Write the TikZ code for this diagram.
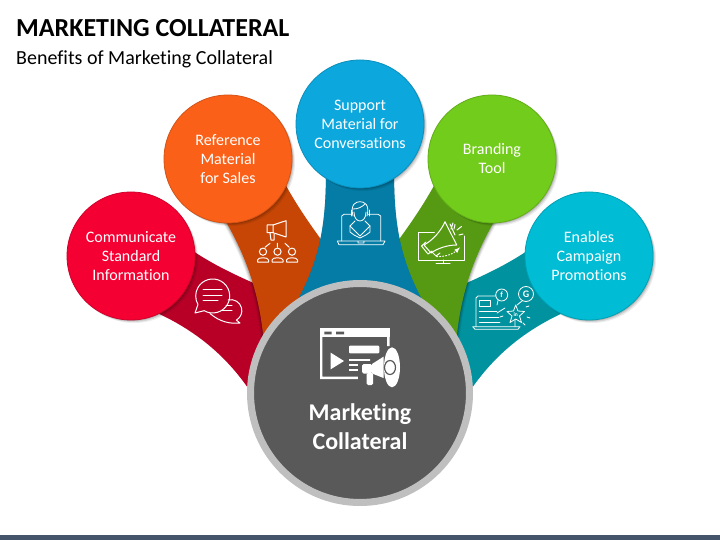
\documentclass[tikz,border=0pt]{standalone}
\usepackage{fontspec}
\setmainfont{Carlito}[Ligatures=NoCommon]
\usetikzlibrary{shadows}
\definecolor{redc}{HTML}{F50032}
\definecolor{redp}{HTML}{B80027}
\definecolor{orac}{HTML}{FB6018}
\definecolor{orap}{HTML}{C74606}
\definecolor{bluc}{HTML}{0CA7DD}
\definecolor{blup}{HTML}{047CA6}
\definecolor{gric}{HTML}{72CC1B}
\definecolor{grip}{HTML}{569A14}
\definecolor{teac}{HTML}{00BCD4}
\definecolor{teap}{HTML}{00929F}
\definecolor{hubc}{HTML}{595959}
\definecolor{ringc}{HTML}{BFBFBF}
\definecolor{barc}{HTML}{44546A}
\tikzset{
  softshadow/.style n args={2}{
    general shadow={shadow xshift=#1*3pt,shadow yshift=#2*3pt,fill=black,opacity=.07},
    general shadow={shadow xshift=#1*2pt,shadow yshift=#2*2pt,fill=black,opacity=.1},
    general shadow={shadow xshift=#1*1pt,shadow yshift=#2*1pt,fill=black,opacity=.14}},
  bubble/.style={circle,minimum size=128pt,inner sep=0pt,outer sep=0pt,text=white,align=center,
    font=\fontsize{16}{19}\selectfont,softshadow={1}{-1},draw=#1!85!black,line width=.8pt,fill=#1},
  icon/.style={draw=white,line width=1pt,line join=round,line cap=round},
  iconfill/.style={fill=white,draw=none}
}
\begin{document}
\begin{tikzpicture}[x=1pt,y=-1pt]
  \useasboundingbox (0,0) rectangle (720,540);
  \fill[white] (0,0) rectangle (720,540);
  \fill[barc] (0,535) rectangle (720,540);

  % node centres, the petals hang on them
  \coordinate (c1) at (131,256);
  \coordinate (c2) at (228,159);
  \coordinate (c3) at (360,124);
  \coordinate (c4) at (492,159);
  \coordinate (c5) at (589,256);
  \coordinate (ch) at (360,393);

  % petals
  \fill[redp] (c1) -- (190,249) .. controls (212,264) and (233,274) .. (258,285) -- (ch) -- (248,388) .. controls (225,355) and (195,330) .. (155,312) -- cycle;
  \fill[teap] (c5) -- (530,249) .. controls (508,264) and (487,274) .. (462,285) -- (ch) -- (472,388) .. controls (495,355) and (525,330) .. (565,312) -- cycle;
  \fill[orap,softshadow={-1}{-.4}] (c2) -- (222,215) .. controls (243,250) and (260,290) .. (264,345) -- (ch) -- (335,258) .. controls (315,232) and (296,205) .. (283,180) -- cycle;
  \fill[grip,softshadow={1}{-.4}] (c4) -- (498,215) .. controls (477,250) and (460,290) .. (456,345) -- (ch) -- (385,258) .. controls (405,232) and (424,205) .. (437,180) -- cycle;
  \fill[blup,softshadow={0}{-.4}] (c3) -- (326,170) .. controls (326,225) and (320,260) .. (295,305) -- (ch) -- (425,305) .. controls (400,260) and (394,225) .. (394,170) -- cycle;

  % bubbles
  \node[bubble=redc] (comm) at (c1) {Communicate\\Standard\\Information};
  \node[bubble=orac] (sales) at (c2) {Reference\\Material\\for Sales};
  \node[bubble=bluc] (talk) at (c3) {Support\\Material for\\Conversations};
  \node[bubble=gric] (brand) at (c4) {Branding\\Tool};
  \node[bubble=teac] (promo) at (c5) {Enables\\Campaign\\Promotions};
  \node[circle,minimum size=219pt,inner sep=0pt,fill=hubc,draw=ringc,line width=7pt,softshadow={0}{-1}] (hub) at (ch) {};
  \node[text=white,align=center,font=\fontsize{24}{29}\selectfont\bfseries] (hubtext) at (360,426.5) {Marketing\\Collateral};

  \node[anchor=west,inner sep=0pt,font=\fontsize{26}{30}\selectfont\bfseries,text=black] (title) at (16,28) {MARKETING COLLATERAL};
  \node[anchor=west,inner sep=0pt,font=\fontsize{20}{24}\selectfont,text=black] (subtitle) at (16,59) {Benefits of Marketing Collateral};

  % chat icon
  \draw[icon] (204.2,310.7) arc (120:-210:17) -- (195,313) -- cycle;
  \draw[icon] (203,289) -- (222,289) (203,295) -- (222,295) (203,300.7) -- (218,300.7);
  \draw[icon] (228,300) arc (-105:60:11) -- (240,323) .. controls (230,324) and (220,322) .. (210,313.5);
  \draw[icon] (226,305.7) -- (232,305.7) (222,310.7) -- (232,310.7);

  % megaphone and people icon
  \draw[icon] (273,225) -- (286,220.7) -- (286,237) -- (273,232.7) -- cycle;
  \draw[icon] (273,225) -- (267,225) -- (267,232.7) -- (273,232.7) (270,233) -- (271,240) -- (274,240) -- (274,234);
  \draw[icon] (270,243.3) -- (265,247.3) (277.3,243.3) -- (277.3,247.3) (285,243.3) -- (289.3,247.3);
  \foreach \x in {263,277.5,292} {
    \draw[icon] (\x,251.7) circle (3.6);
    \draw[icon] (\x-5.5,262) -- (\x-5.5,260) .. controls (\x-5.5,257) and (\x+5.5,257) .. (\x+5.5,260) -- (\x+5.5,262) -- cycle;
  }

  % support agent icon
  \draw[icon,line width=.8pt] (352,214.3) -- (344,214.3) -- (341.7,216) -- (341.7,241) (368,214.3) -- (378,214.3) -- (380.7,216) -- (380.7,241);
  \draw[icon,line width=.8pt] (337.3,241) -- (385,241) -- (383,244.7) -- (339,244.7) -- cycle (358,241) -- (358,243) -- (364,243) -- (364,241);
  \draw[icon,line width=.8pt] (353,216) .. controls (350,204) and (356,201.7) .. (360,201.7) .. controls (364,201.7) and (370,204) .. (367,216);
  \draw[icon,line width=.8pt] (353,209) .. controls (358,209) and (362,207) .. (365,204) (354,212) .. controls (354,224) and (366,224) .. (366,212);
  \draw[icon,line width=.8pt] (351,210) -- (351,216) (369,210) -- (369,216);
  \draw[icon,line width=.8pt] (355,221) -- (350,226) -- (350,232) -- (354,235) -- (360,238) -- (366,235) -- (370,232) -- (370,226) -- (365,221);
  \draw[icon,line width=.8pt] (350,226) -- (360,236) -- (370,226);

  % billboard icon
  \draw[icon] (442,232.3) -- (418.3,232.3) -- (418.3,260) -- (464.3,260) -- (464.3,236);
  \draw[icon] (443.3,260) -- (443.3,263.3) (436,263.3) -- (450,263.3);
  \fill[grip] (445,221.7) -- (456.7,245) -- (430,253) -- (423.3,245) -- cycle;
  \draw[icon] (445,221.7) -- (456.7,245) .. controls (448,245) and (438,248) .. (431,253) -- (424,245) .. controls (433,240) and (441,231) .. (445,221.7) -- cycle;
  \draw[icon] (426,242) -- (421.5,246) -- (428,254) -- (432,251) (432,252) -- (436,256) -- (440,253);
  \draw[icon] (450,224) -- (455,235) (453,223) -- (451,229);
  \draw[icon] (454,229) -- (455,224.5) (457,230) -- (461.5,226.5) (459,235) -- (463,234);
  \draw[icon,dotted,->,>=latex] (436.7,256.5) .. controls (445,257) and (453,254) .. (460,247.3);

  % laptop and social icon
  \draw[icon,line width=.8pt] (496,296) -- (478,296) -- (476,298) -- (476,326.7) (515,320) -- (515,326.7);
  \draw[icon,line width=.8pt] (472.7,326.7) -- (520,326.7) -- (518,329.3) -- (475,329.3) -- cycle;
  \draw[icon,line width=.8pt] (479.3,300.7) rectangle (490,306.7);
  \draw[icon,line width=.8pt] (479.3,311.7) -- (497,311.7) (479.3,317.3) -- (499,317.3) (479.3,322) -- (500,322);
  \node[circle,draw=white,line width=.8pt,minimum size=12pt,inner sep=0pt,text=white,font=\fontsize{8}{8}\selectfont\bfseries] (fb) at (501.7,295) {f};
  \node[circle,draw=white,line width=.8pt,minimum size=15pt,inner sep=0pt,text=white,font=\fontsize{10}{10}\selectfont\bfseries] (gg) at (526,294) {G};
  \draw[icon,line width=.8pt] (498,300.5) -- (497,305) (522,301) -- (517,305);
  \draw[icon,line width=.8pt] (515.7,305) -- (518,311) -- (524.5,311.5) -- (519.5,316) -- (521.5,322.5) -- (515.7,319) -- (510,322.5) -- (512,316) -- (507,311.5) -- (513.5,311) -- cycle;
  \node[text=white,inner sep=0pt,font=\fontsize{5.5}{5.5}\selectfont\bfseries] (lin) at (515.7,314.5) {in};
  \draw[icon,line width=.8pt] (505,308) -- (497,313) (503,316) -- (500,317) (526,307) -- (529,306) (527,317) -- (530,318) (523,323) -- (525,325);

  % hub icon
  \fill[white] (320,328.3) rectangle (390,337.3);
  \fill[hubc] (324.3,331.7) rectangle (331.7,334.3) (336,331.7) rectangle (344,334.3);
  \fill[white] (320,337) rectangle (322.3,379) (320,376.7) rectangle (365,379) (387,337) rectangle (389.5,346);
  \fill[white] (330.7,352.7) -- (344,361) -- (330.7,369.3) -- cycle;
  \fill[white,rounded corners=1pt] (349,345.7) rectangle (379.3,353.3);
  \fill[white] (349,359.2) rectangle (370,360.8) (349,364.2) rectangle (365,365.8) (349,369.2) rectangle (360,370.8);
  \fill[hubc] (358,361) rectangle (386,382);
  \fill[white,rounded corners=1.5pt] (362,364) rectangle (372,373.5);
  \fill[white] (372,364) -- (383.5,356.7) -- (383.5,378) -- (372,373.5) -- cycle;
  \fill[white,rounded corners=1.5pt] (366.7,373) rectangle (373,385);
  \fill[white] (392,367.3) ellipse (8 and 20);
  \draw[hubc,line width=1.2pt] (390,367.5) ellipse (5.5 and 7);
\end{tikzpicture}
\end{document}
